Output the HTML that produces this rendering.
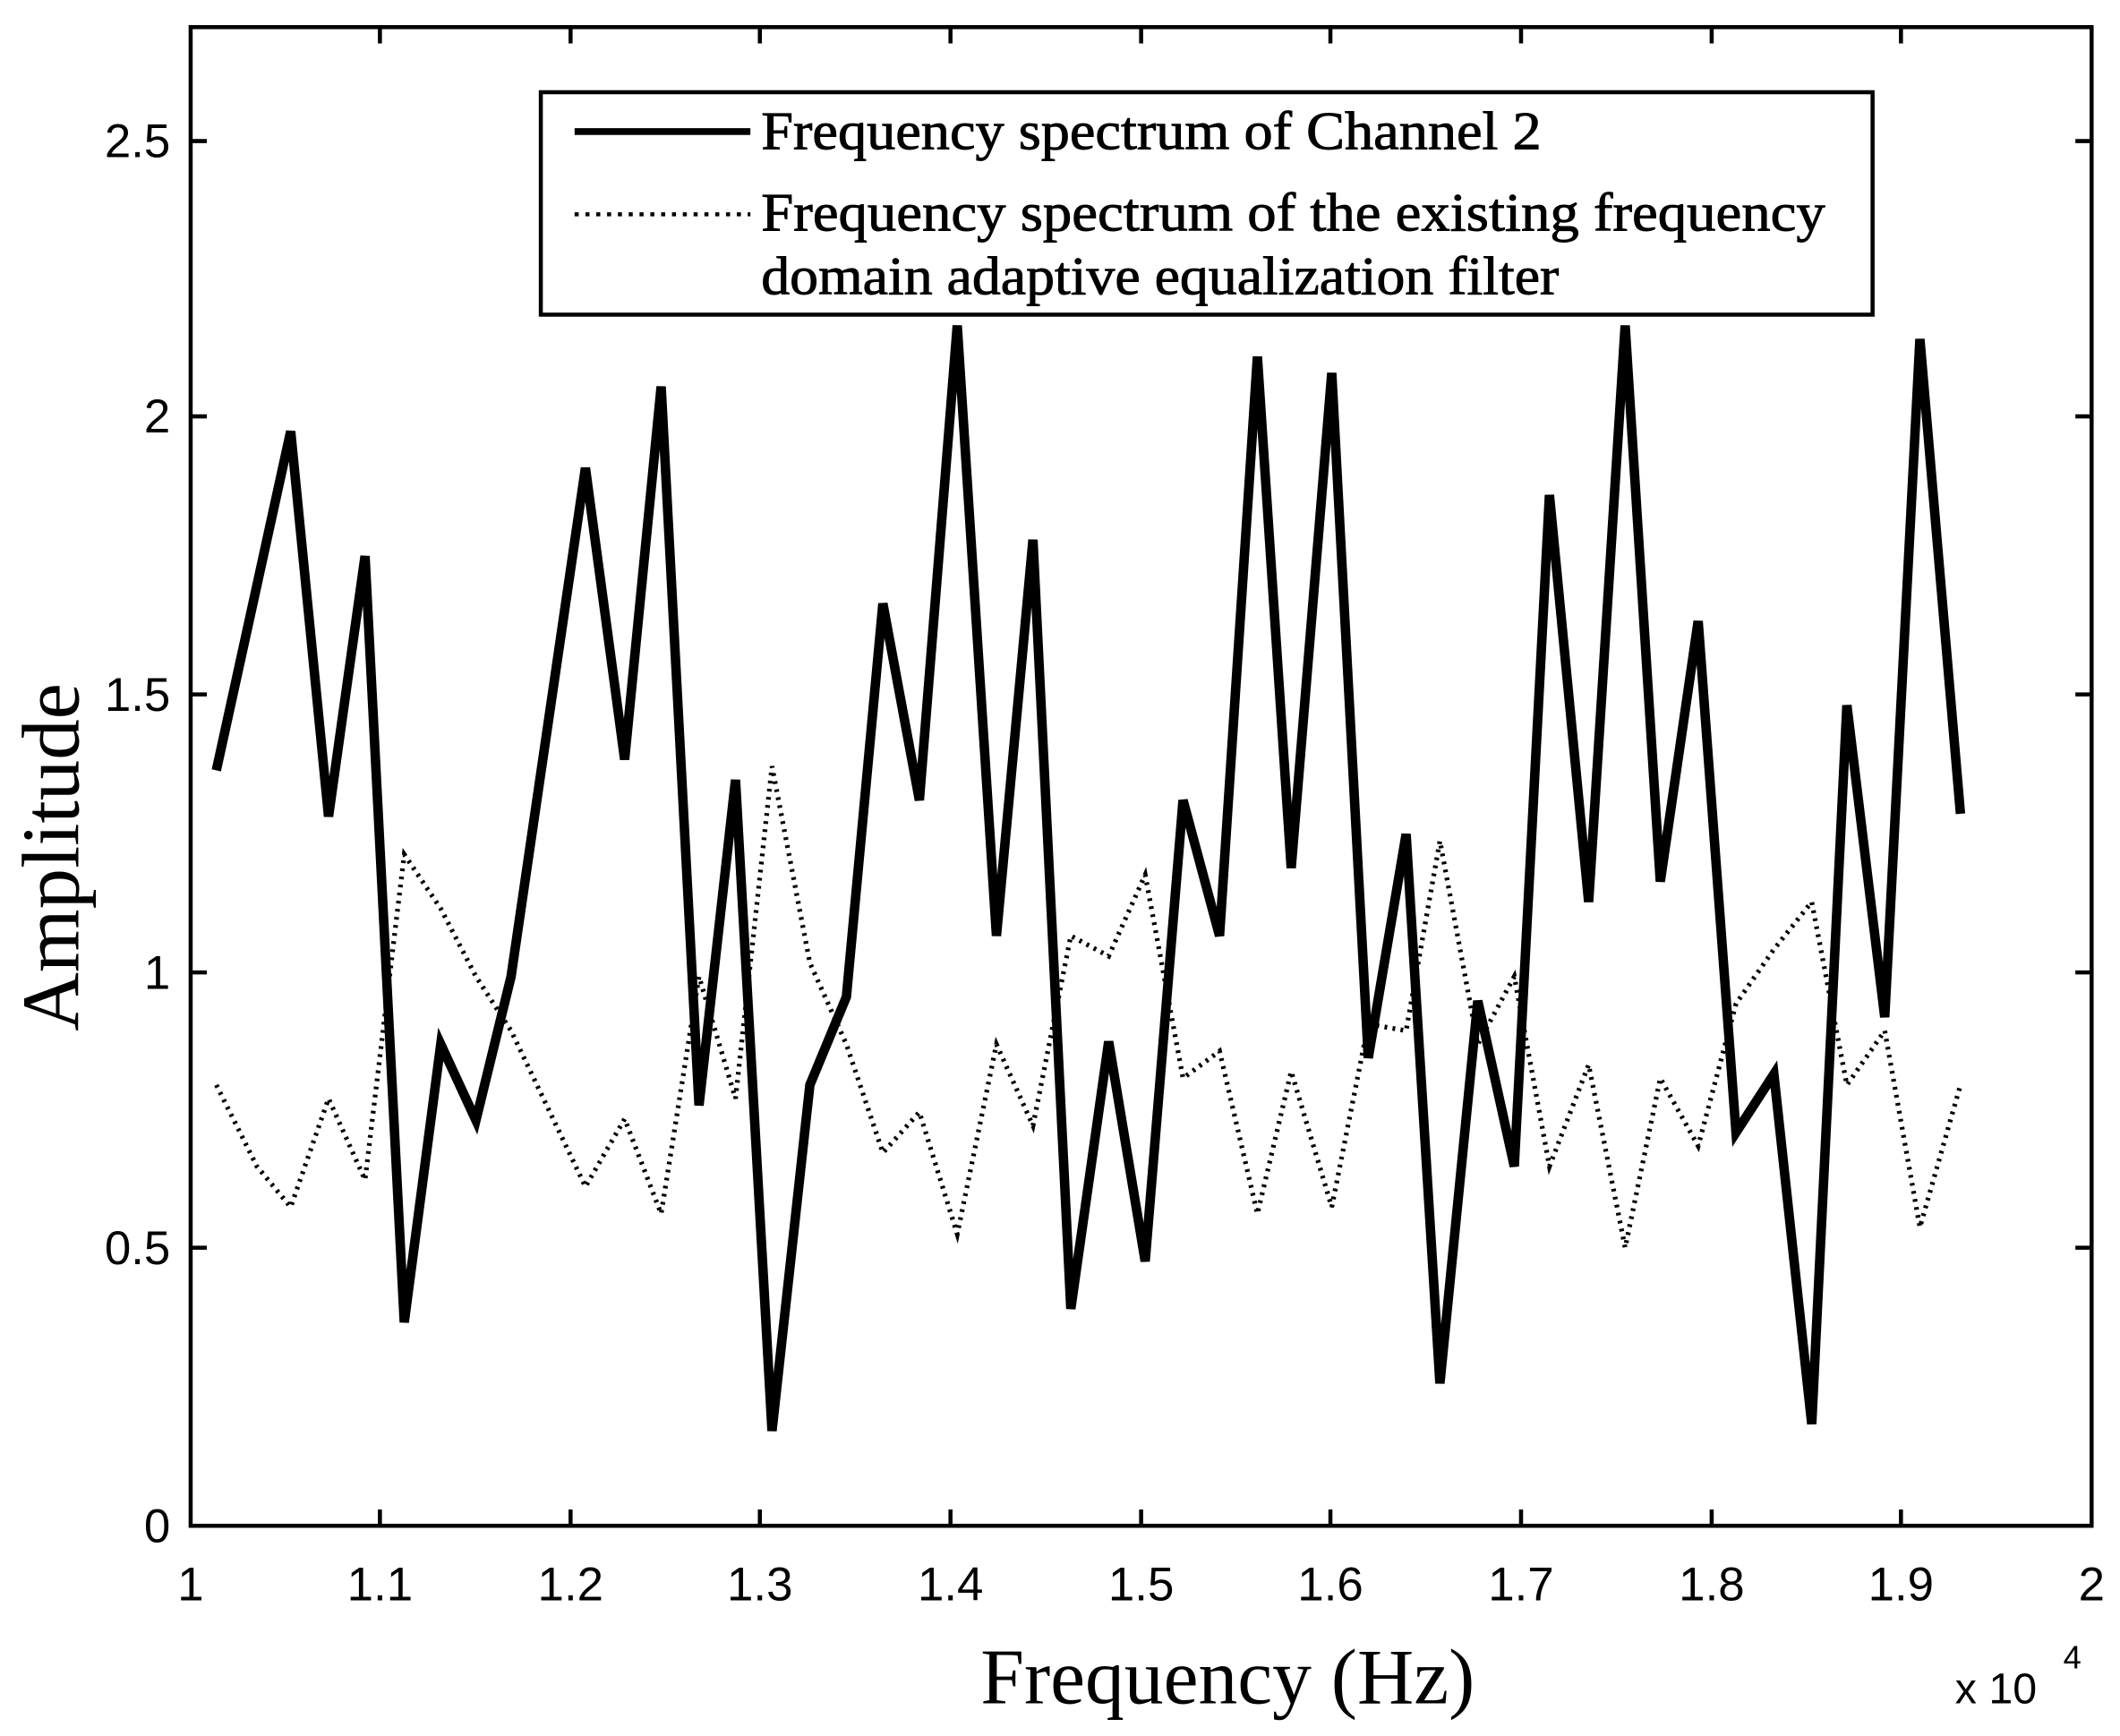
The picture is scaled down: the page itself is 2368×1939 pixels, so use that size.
<!DOCTYPE html>
<html><head><style>html,body{margin:0;padding:0;background:#fff}svg{display:block}</style></head><body>
<svg width="2368" height="1939" viewBox="0 0 1568 1280" preserveAspectRatio="none" xmlns="http://www.w3.org/2000/svg">
<rect width="1568" height="1280" fill="#fff"/>
<g stroke="#000" stroke-width="3" fill="none">
<rect x="141" y="20" width="1406" height="1105"/>
<path d="M281,1125v-12M422,1125v-12M562,1125v-12M703,1125v-12M844,1125v-12M984,1125v-12M1125,1125v-12M1266,1125v-12M1406,1125v-12
M281,20v12M422,20v12M562,20v12M703,20v12M844,20v12M984,20v12M1125,20v12M1266,20v12M1406,20v12
M141,920h12M141,717h12M141,512h12M141,307h12M141,104h12
M1547,920h-12M1547,717h-12M1547,512h-12M1547,307h-12M1547,104h-12"/>
</g>
<g font-family="Liberation Sans, sans-serif" font-size="35" fill="#000">
<g text-anchor="end">
<text x="126" y="1137">0</text><text x="126" y="932">0.5</text><text x="126" y="729">1</text><text x="126" y="524">1.5</text><text x="126" y="319">2</text><text x="126" y="116">2.5</text>
</g>
<g text-anchor="middle">
<text x="141" y="1180">1</text><text x="281" y="1180">1.1</text><text x="422" y="1180">1.2</text><text x="562" y="1180">1.3</text><text x="703" y="1180">1.4</text><text x="844" y="1180">1.5</text><text x="984" y="1180">1.6</text><text x="1125" y="1180">1.7</text><text x="1266" y="1180">1.8</text><text x="1406" y="1180">1.9</text><text x="1547" y="1180">2</text>
</g>
<text x="1446" y="1256" font-size="32">x 10</text><text x="1526" y="1230" font-size="24">4</text>
</g>
<g font-family="Liberation Serif, serif" fill="#000">
<text x="908" y="1256" font-size="58" text-anchor="middle">Frequency (Hz)</text>
<text transform="translate(58,632) rotate(-90)" font-size="60" text-anchor="middle">Amplitude</text>
</g>
<polyline fill="none" stroke="#000" stroke-width="3.5" stroke-dasharray="2,4" points="160,800 190,860 215,890 243,810 270,870 299,630 326,670 352,720 378,760 433,875 462,825 489,895 517,720 544,810 571,565 599,710 626,770 653,850 680,820 708,910 737,770 764,830 792,690 820,705 847,645 875,795 902,775 930,895 955,790 985,890 1012,755 1040,760 1065,620 1093,770 1120,720 1146,860 1175,785 1202,920 1228,795 1256,845 1284,740 1312,700 1340,665 1366,800 1394,760 1420,905 1450,800"/>
<polyline fill="none" stroke="#000" stroke-width="7" stroke-linejoin="miter" points="160,568 215,318 243,602 270,410 299,975 326,770 352,826 378,720 433,345 462,560 489,285 517,815 544,575 571,1055 599,800 626,735 653,445 680,590 708,240 737,690 764,398 792,965 820,768 847,930 875,590 902,690 930,263 955,640 985,275 1012,780 1040,615 1065,1020 1093,738 1120,860 1146,365 1175,665 1202,240 1228,650 1256,458 1284,835 1312,792 1340,1050 1366,520 1394,750 1420,250 1450,600"/>
<rect x="400" y="68" width="985" height="164" fill="#fff" stroke="#000" stroke-width="3"/>
<line x1="425" y1="97" x2="555" y2="97" stroke="#000" stroke-width="5"/>
<line x1="425" y1="158" x2="555" y2="158" stroke="#000" stroke-width="3" stroke-dasharray="3,5"/>
<g font-family="Liberation Serif, serif" font-size="40" fill="#000" stroke="#000" stroke-width="0.6">
<text x="563" y="110" textLength="577" lengthAdjust="spacingAndGlyphs">Frequency spectrum of Channel 2</text>
<text x="563" y="170" textLength="787" lengthAdjust="spacingAndGlyphs">Frequency spectrum of the existing frequency</text>
<text x="563" y="217" textLength="590" lengthAdjust="spacingAndGlyphs">domain adaptive equalization filter</text>
</g>
</svg>
</body></html>
